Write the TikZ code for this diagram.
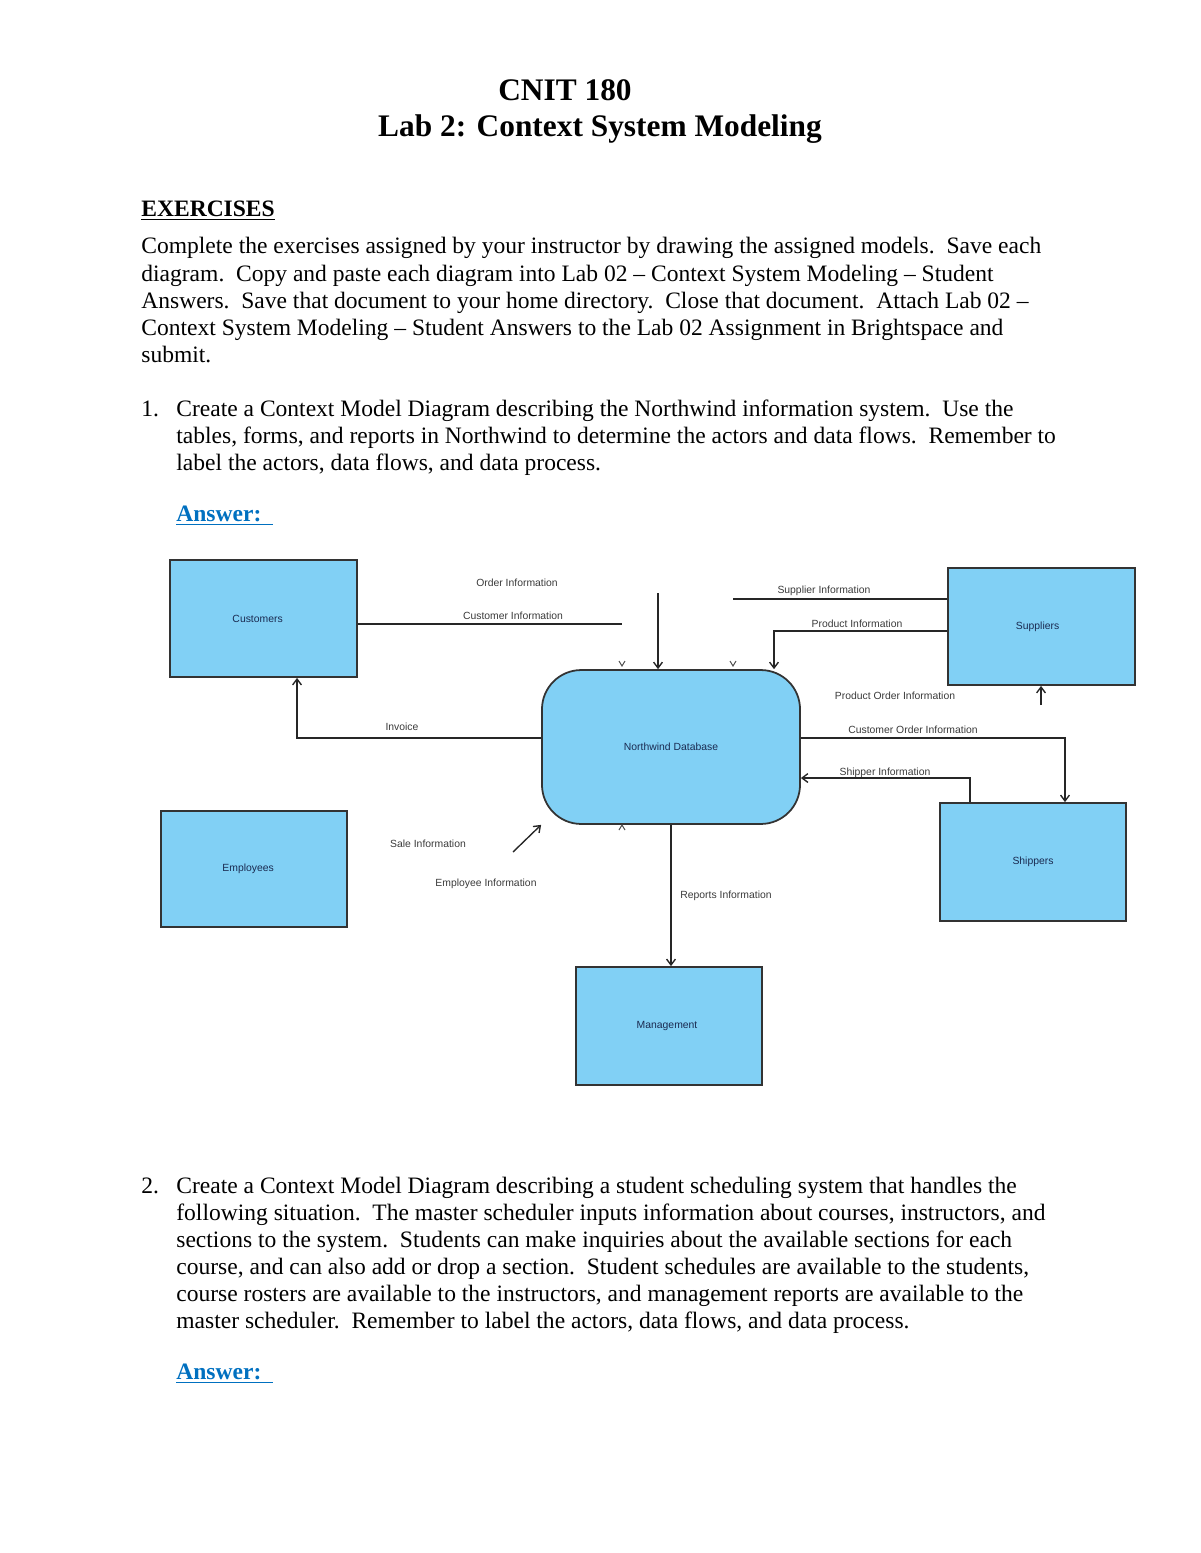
\documentclass[tikz,border=0pt]{standalone}
\usepackage{fontspec}
\setmainfont{Liberation Serif}
\newfontfamily\diagfont{Liberation Sans}
\usetikzlibrary{arrows.meta,calc}
\definecolor{boxfill}{HTML}{81D0F5}
\definecolor{boxline}{HTML}{333333}
\definecolor{boxtext}{HTML}{1A2A50}
\definecolor{ansblue}{HTML}{0070C0}
\definecolor{lblgray}{HTML}{3A3A3A}
\begin{document}
\begin{tikzpicture}[x=0.51pt,y=-0.51pt,
  txt/.style={anchor=base west, inner sep=0, font=\fontsize{12}{14}\selectfont},
  ttl/.style={anchor=base, inner sep=0, font=\fontsize{16}{18}\selectfont\bfseries},
  ans/.style={anchor=base west, inner sep=0, font=\fontsize{12}{14}\selectfont\bfseries, text=ansblue},
  box/.style={draw=boxline, fill=boxfill, line width=0.9pt, minimum width=95.2pt, minimum height=59.7pt, inner sep=0, font=\diagfont\fontsize{5.3}{6}\selectfont, text=boxtext},
  flow/.style={draw=black!85, line width=0.7pt, -{Straight Barb[length=3pt,width=4.5pt]}},
  plainflow/.style={draw=black!85, line width=0.7pt},
  vmark/.style={draw=black!70, line width=0.5pt},
  lbl/.style={font=\diagfont\fontsize{5.3}{6}\selectfont, text=lblgray, inner sep=0}
]
\useasboundingbox (0,0) rectangle (1200,1553);

% Title
\node[ttl] (t1) at (565,101) {CNIT 180};
\node[ttl] (t2) at (600,137) {Lab 2: Context System Modeling};

\node[txt, font=\fontsize{12}{14}\selectfont\bfseries] (ex) at (141,216) {\underline{EXERCISES}};

\node[txt] (p1) at (141,254) {Complete the exercises assigned by your instructor by drawing the assigned models.\enspace Save each};
\node[txt] (p2) at (141,281) {diagram.\enspace Copy and paste each diagram into Lab 02 – Context System Modeling – Student};
\node[txt] (p3) at (141,308) {Answers.\enspace Save that document to your home directory.\enspace Close that document.\enspace Attach Lab 02 –};
\node[txt] (p4) at (141,335) {Context System Modeling – Student Answers to the Lab 02 Assignment in Brightspace and};
\node[txt] (p5) at (141,362) {submit.};

\node[txt] (n1) at (141,416) {1.};
\node[txt] (a1) at (176,416) {Create a Context Model Diagram describing the Northwind information system.\enspace Use the};
\node[txt] (a2) at (176,443) {tables, forms, and reports in Northwind to determine the actors and data flows.\enspace Remember to};
\node[txt] (a3) at (176,470) {label the actors, data flows, and data process.};
\node[ans] (ans1) at (176,521) {\underline{Answer:\hspace{6pt}}};

\node[txt] (n2) at (141,1193) {2.};
\node[txt] (b1) at (176,1193) {Create a Context Model Diagram describing a student scheduling system that handles the};
\node[txt] (b2) at (176,1220) {following situation.\enspace The master scheduler inputs information about courses, instructors, and};
\node[txt] (b3) at (176,1247) {sections to the system.\enspace Students can make inquiries about the available sections for each};
\node[txt] (b4) at (176,1274) {course, and can also add or drop a section.\enspace Student schedules are available to the students,};
\node[txt] (b5) at (176,1301) {course rosters are available to the instructors, and management reports are available to the};
\node[txt] (b6) at (176,1328) {master scheduler.\enspace Remember to label the actors, data flows, and data process.};
\node[ans] (ans2) at (176,1379) {\underline{Answer:\hspace{6pt}}};

% Diagram boxes
\node[box] (cust) at (263.5,618.5) {\hspace*{-6pt}Customers};
\node[box] (sup) at (1041.5,626.5) {\hspace*{-4pt}Suppliers};
\node[box, minimum width=94.9pt, minimum height=59.2pt] (emp) at (254,869) {\hspace*{-6pt}Employees};
\node[box, minimum width=94.9pt, minimum height=60.2pt] (ship) at (1033,862) {Shippers};
\node[box, minimum width=94.9pt, minimum height=60.2pt] (mgmt) at (669,1026) {\hspace*{-2pt}Management};
\node[box, rounded corners=20pt, minimum width=131.6pt, minimum height=78.5pt] (nw) at (671,747) {Northwind Database};

% coordinates
\coordinate (ciEnd) at (622,624);
\coordinate (oiTop) at (658,593);
\coordinate (siEnd) at (733,599);
\coordinate (piC) at (774,631);
\coordinate (invC) at (297,738);
\coordinate (poC) at (1041,705);
\coordinate (coC) at (1065,738);
\coordinate (shC) at (970,778);
\coordinate (saC) at (513,852);

% connectors
\draw[plainflow] (cust.east |- ciEnd) -- (ciEnd);
\draw[flow] (oiTop) -- (oiTop |- nw.north);
\draw[plainflow] (sup.west |- siEnd) -- (siEnd);
\draw[flow] (sup.west |- piC) -- (piC) -- (piC |- nw.north);
\draw[flow] (nw.west |- invC) -- (invC) -- (invC |- cust.south);
\draw[flow] (poC) -- (poC |- sup.south);
\draw[flow] (nw.east |- coC) -- (coC) -- (coC |- ship.north);
\draw[flow] (shC |- ship.north) -- (shC) -- (nw.east |- shC);
\draw[flow] (saC) -- (nw.south west);
\draw[flow] (nw.south) -- (nw.south |- mgmt.north);

% dangling marks
\draw[vmark] (619,661) -- (622,666) -- (625,661);
\draw[vmark] (730,661) -- (733,666) -- (736,661);
\draw[vmark] (619,830) -- (622,825) -- (625,830);

% labels
\node[lbl] (l1) at (517,583) {Order Information};
\node[lbl] (l2) at (513,616) {Customer Information};
\node[lbl] (l3) at (824,591) {Supplier Information};
\node[lbl] (l4) at (857,624) {Product Information};
\node[lbl] (l5) at (402,727) {Invoice};
\node[lbl] (l6) at (895,696) {Product Order Information};
\node[lbl] (l7) at (913,730) {Customer Order Information};
\node[lbl] (l8) at (885,773) {Shipper Information};
\node[lbl] (l9) at (428,844) {Sale Information};
\node[lbl] (l10) at (486,884) {Employee Information};
\node[lbl] (l11) at (726,896) {Reports Information};
\end{tikzpicture}
\end{document}
